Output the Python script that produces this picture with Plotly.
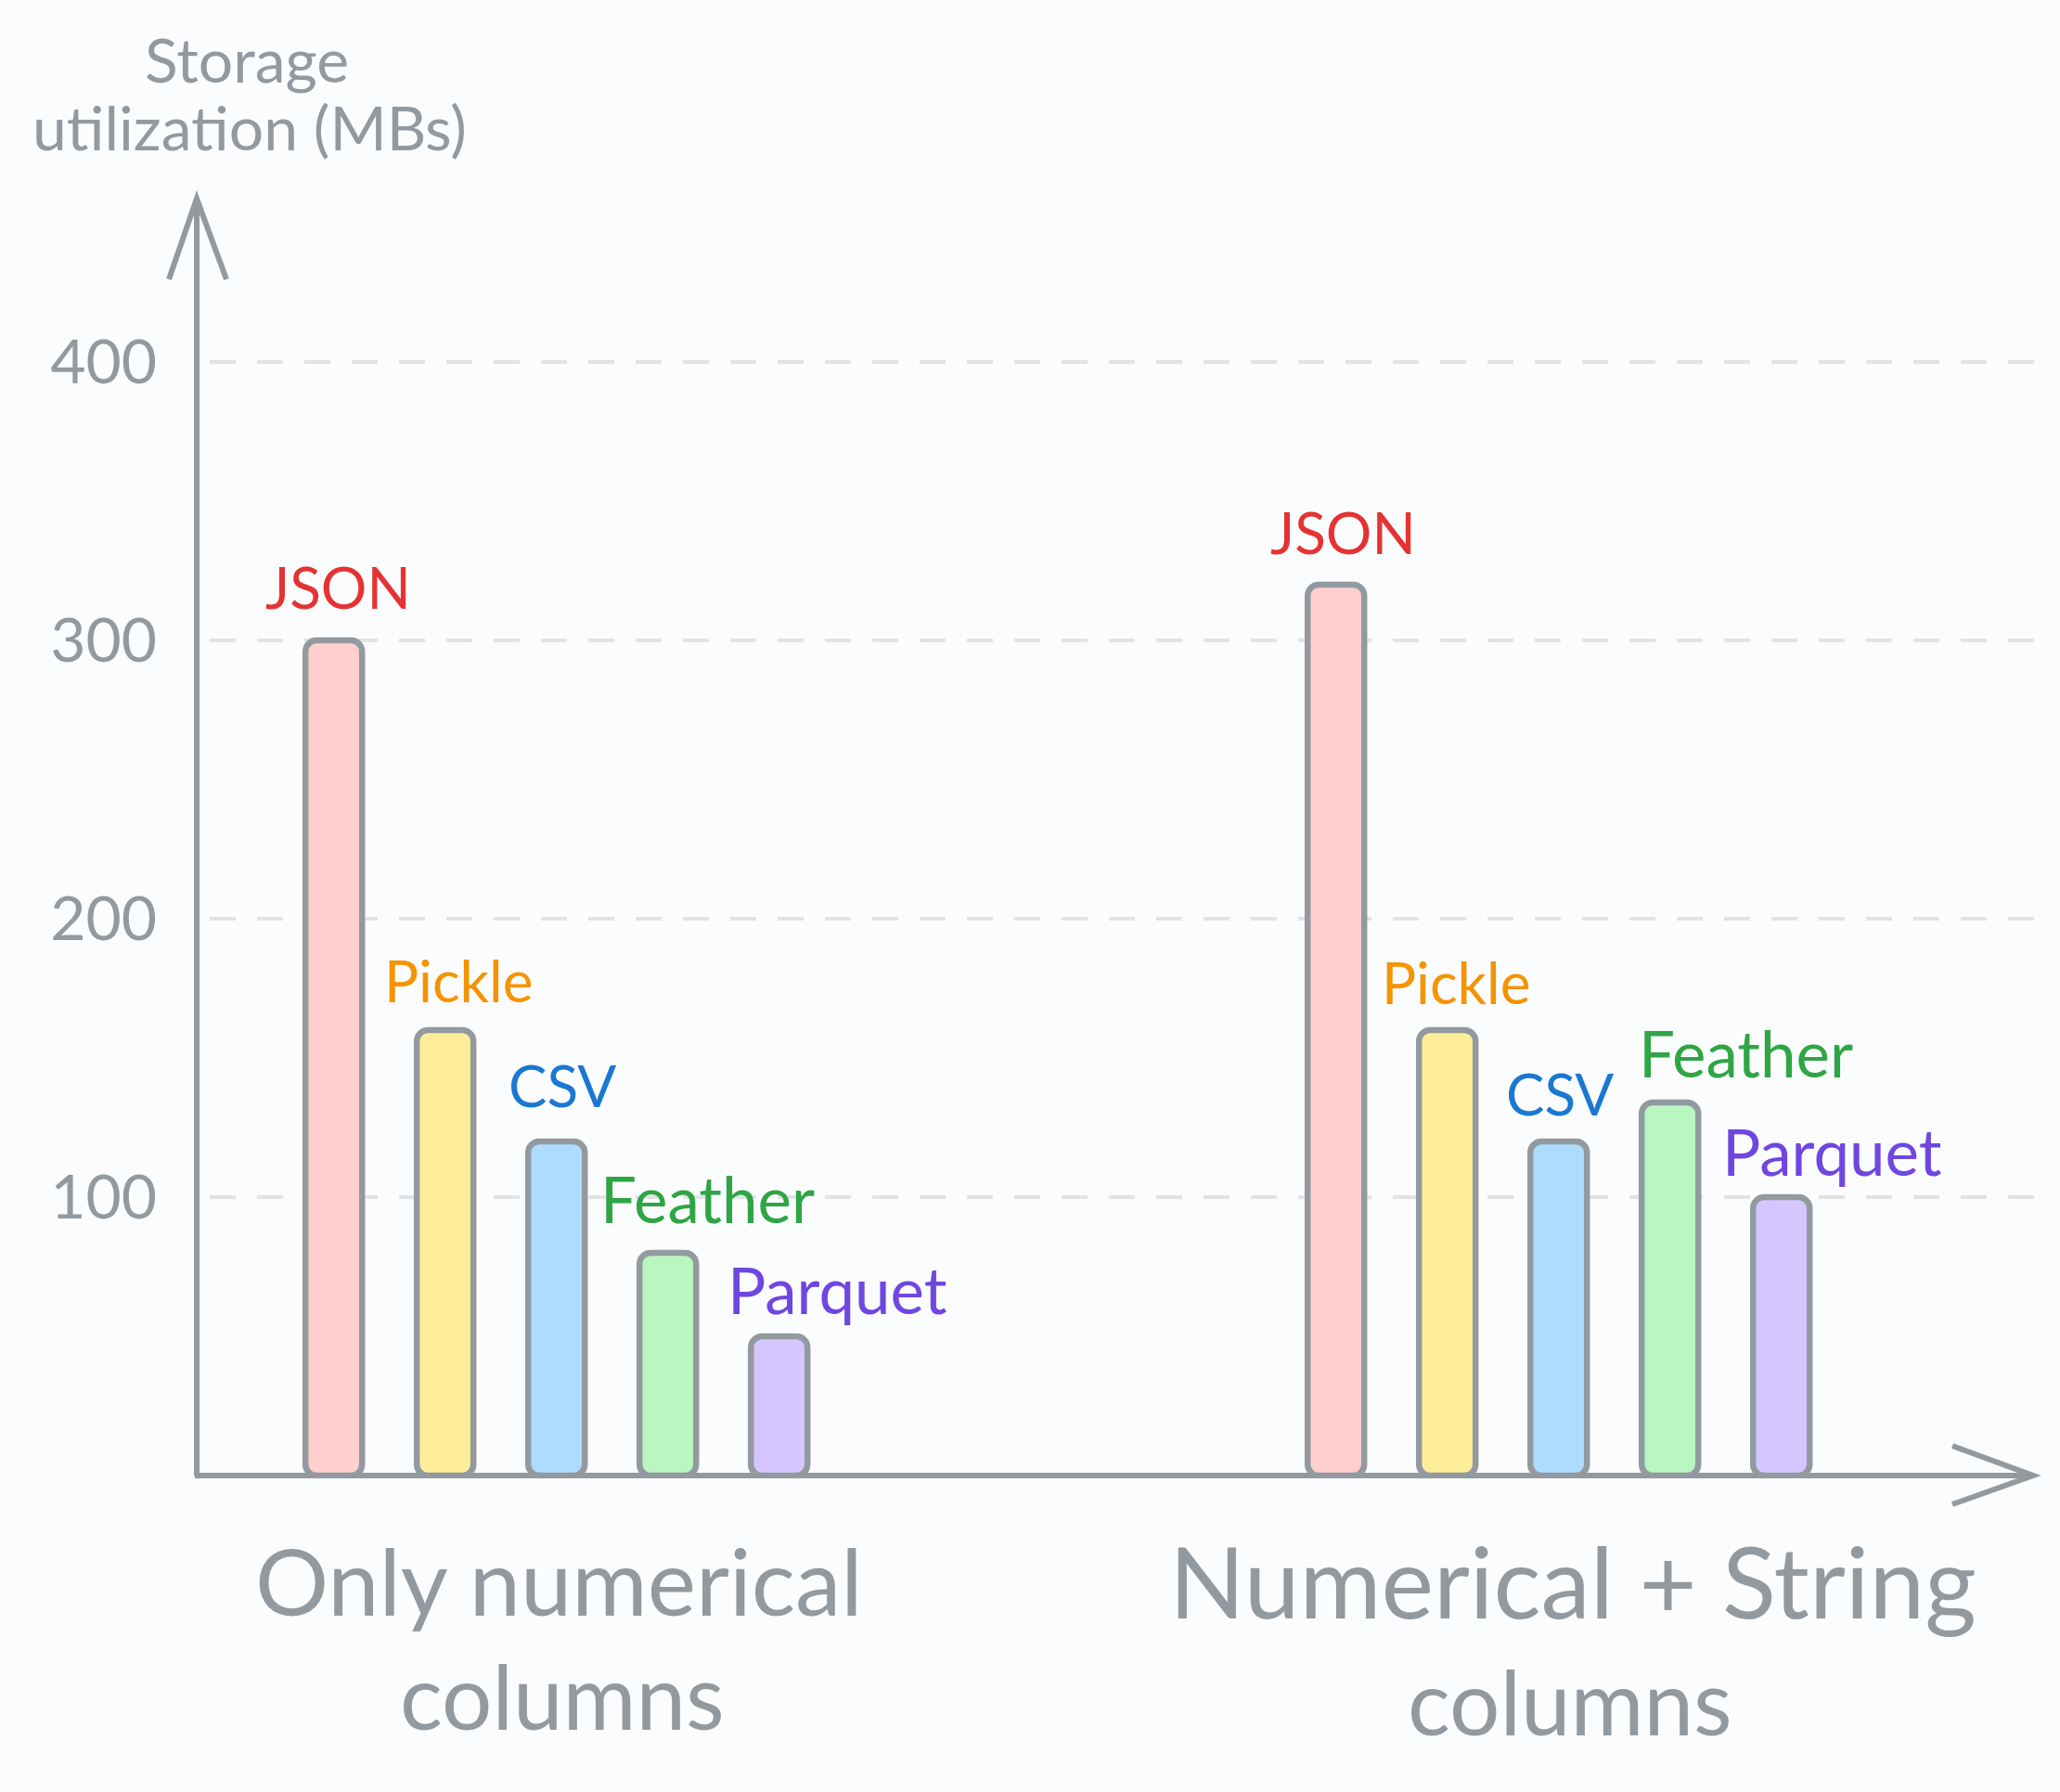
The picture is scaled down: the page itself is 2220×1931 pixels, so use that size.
import plotly.graph_objects as go

# values (MBs)
formats = ["JSON", "Pickle", "CSV", "Feather", "Parquet"]
only_numerical = [300, 160, 120, 80, 50]
numerical_string = [320, 160, 120, 134, 100]
group_lines = [["Only numerical", "columns"], ["Numerical + String", "columns"]]
y_ticks = [100, 200, 300, 400]
y_title_lines = ["Storage", "utilization (MBs)"]

fills = ["#ffcfcf", "#ffee99", "#aedcff", "#b9f6c0", "#d5c6ff"]
text_colors = ["#e63232", "#f59300", "#1a78d0", "#2fa544", "#6f47e0"]
label_sizes = [62, 62, 62, 69, 69]

GREY = "#929aa0"
BG = "#fbfcfe"
FONT = "Lato"

# pixel layout of the plot area
LEFT, RIGHT, TOP, BASE = 226, 2192, 200, 1590
PX_PER_SLOT = 120
PX_PER_MB = 3
FIRST_BAR = 359.7
GROUP_GAP = 9  # slots between the JSON bars of the two groups
BAR_W = 61 / PX_PER_SLOT

# label offsets from the top centre of each bar, in pixels
shift_1 = [(5, 58), (14, 54), (6, 61), (43, 59), (63, 51)]
shift_2 = [(8, 57), (9, 52), (1, 52), (82, 54), (55, 50)]

# group label lines: font size, x shift and pixel height of each line
group_sizes = [[99, 96], [107, 96]]
group_dx = [[3, 6], [15, 12]]
group_y = [[1702, 1826], [1702, 1832]]


def px(x):
    return (x - LEFT) / (RIGHT - LEFT)


def py(y):
    return (BASE - y) / (BASE - TOP)


fig = go.Figure()

for i, name in enumerate(formats):
    xs = [i, i + GROUP_GAP]
    vals = [only_numerical[i], numerical_string[i]]
    # an explicit base makes plotly round all four corners
    fig.add_bar(x=xs, y=vals, base=[0, 0], width=BAR_W, name=name,
                marker=dict(color=fills[i], line=dict(color=GREY, width=6.5), cornerradius=12),
                cliponaxis=False)

    for x, v, (dx, dy) in zip(xs, vals, [shift_1[i], shift_2[i]]):
        fig.add_annotation(x=x, y=v, text=name, showarrow=False, xshift=dx, yshift=dy,
                           font=dict(family=FONT, size=label_sizes[i], color=text_colors[i]))

# group labels
for k, lines in enumerate(group_lines):
    for j, line in enumerate(lines):
        fig.add_annotation(x=2 + k * GROUP_GAP, xshift=group_dx[k][j], yref="paper",
                           y=py(group_y[k][j]), text=line, showarrow=False, yanchor="middle",
                           font=dict(family=FONT, size=group_sizes[k][j], color=GREY))

for line, x, y in zip(y_title_lines, [266, 269], [64, 136]):
    fig.add_annotation(xref="paper", yref="paper", x=px(x), y=py(y), text=line,
                       xanchor="center", yanchor="middle", showarrow=False,
                       font=dict(family=FONT, size=66, color=GREY))

# hand drawn style axes with open arrow heads
axis_paths = [
    [(212, 1590), (212, 214)],
    [(182, 301), (212, 214), (244, 301)],
    [(210, 1590), (2191, 1590)],
    [(2104, 1558), (2191, 1590), (2104, 1621)],
]
for pts in axis_paths:
    path = "M " + " L ".join(f"{px(a)},{py(b)}" for a, b in pts)
    fig.add_shape(type="path", path=path, xref="paper", yref="paper",
                  line=dict(color=GREY, width=6))

fig.update_layout(
    width=2220, height=1931,
    margin=dict(l=LEFT, r=2220 - RIGHT, t=TOP, b=1931 - BASE, pad=0),
    paper_bgcolor=BG, plot_bgcolor=BG,
    barmode="overlay", showlegend=False,
    font=dict(family=FONT, color=GREY),
)
fig.update_xaxes(range=[(LEFT - FIRST_BAR) / PX_PER_SLOT, (RIGHT - FIRST_BAR) / PX_PER_SLOT],
                 showgrid=False, zeroline=False, showline=False, showticklabels=False)
fig.update_yaxes(range=[0, (BASE - TOP) / PX_PER_MB],
                 tickvals=y_ticks, ticktext=[str(t) for t in y_ticks],
                 ticklabelstandoff=56, tickfont=dict(family=FONT, size=66, color=GREY),
                 showgrid=True, gridcolor="#e1e3e5", gridwidth=4, griddash="28px,23px",
                 zeroline=False, showline=False, ticks="")

fig.write_html("out.html", config=dict(displayModeBar=False),
               post_script="document.body.style.margin='0';")
